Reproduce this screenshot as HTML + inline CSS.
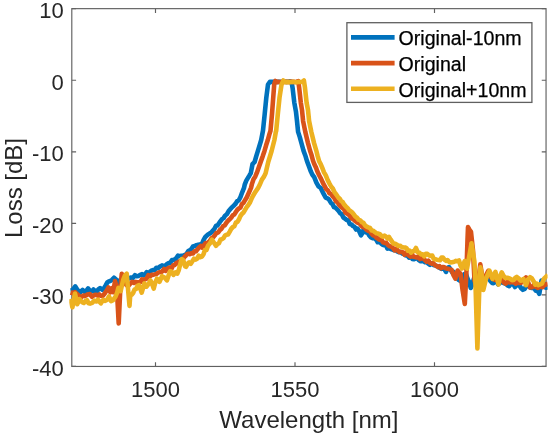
<!DOCTYPE html>
<html><head><meta charset="utf-8"><title>Loss vs Wavelength</title>
<style>
html,body{margin:0;padding:0;background:#fff;}
svg{display:block;}
text{font-family:"Liberation Sans",sans-serif;fill:#262626;}
.tk{font-size:22px;}
.lb{font-size:24px;}
.lg{font-size:19.6px;fill:#000;stroke:#000;stroke-width:0.25px;}
.c{fill:none;stroke-width:4.6;stroke-linejoin:round;stroke-linecap:butt;}
</style></head><body>
<svg width="550" height="438" viewBox="0 0 550 438">
<rect width="550" height="438" fill="#fff"/>
<defs><clipPath id="cp"><rect x="69.3" y="8.65" width="478.24999999999994" height="357.8"/></clipPath></defs>
<g fill="none" stroke="#606060" stroke-width="1.15">
<rect x="71.8" y="8.65" width="474.24999999999994" height="357.8"/>
<path d="M155.5 366.45v-4.3M155.5 8.65v4.3"/>
<path d="M295.0 366.45v-4.3M295.0 8.65v4.3"/>
<path d="M434.5 366.45v-4.3M434.5 8.65v4.3"/>
<path d="M71.8 8.7h4.3M546.05 8.7h-4.3"/>
<path d="M71.8 80.2h4.3M546.05 80.2h-4.3"/>
<path d="M71.8 151.8h4.3M546.05 151.8h-4.3"/>
<path d="M71.8 223.3h4.3M546.05 223.3h-4.3"/>
<path d="M71.8 294.9h4.3M546.05 294.9h-4.3"/>
<path d="M71.8 366.4h4.3M546.05 366.4h-4.3"/>
</g>
<g clip-path="url(#cp)">
<polyline class="c" stroke="#0072BD" points="70.5,290.5 72.5,290.2 75.3,286.4 77.5,289.9 79.7,292.7 82.6,290.0 85.2,292.3 88.1,288.4 90.6,291.6 92.0,291.2 93.5,289.4 95.2,291.6 96.8,291.8 98.4,289.3 100.1,288.0 102.3,289.8 104.2,287.9 105.8,285.2 107.6,282.0 109.0,281.4 110.5,280.8 112.0,279.9 114.0,277.7 116.0,279.5 117.8,282.9 120.0,280.2 122.0,278.8 123.5,280.0 125.0,279.5 126.5,279.3 128.0,279.0 129.5,277.9 131.0,277.6 133.0,277.8 135.0,275.1 136.8,276.2 138.6,275.9 140.4,274.8 142.0,274.1 143.6,275.4 145.1,274.4 146.7,272.2 148.2,272.7 149.8,271.9 151.3,270.7 152.9,270.1 154.7,270.0 156.4,267.7 158.2,268.2 160.0,266.5 162.0,265.4 164.0,266.1 165.5,265.4 167.0,264.1 168.5,263.0 170.0,263.0 172.0,260.1 174.0,259.9 176.0,258.5 178.0,255.7 179.8,256.3 181.5,255.7 183.2,255.6 185.0,254.9 186.6,253.9 188.2,251.1 189.8,250.3 191.4,249.0 193.0,246.5 194.8,246.0 196.5,245.2 198.2,244.8 200.0,244.4 201.8,244.3 203.5,240.2 205.2,237.2 207.0,235.3 208.5,234.2 210.0,233.4 211.5,232.2 213.0,230.4 214.5,228.7 216.0,225.8 217.5,225.5 219.0,223.3 220.5,221.1 222.0,219.2 223.5,218.2 225.0,215.7 226.8,214.3 228.5,211.3 230.2,209.3 232.0,207.2 233.7,205.8 235.4,203.9 237.1,201.3 238.8,200.3 240.5,197.0 242.2,192.3 244.0,187.9 244.8,184.3 246.3,180.6 247.8,178.1 249.3,175.7 250.8,173.1 252.5,164.2 254.6,162.0 256.2,156.4 257.9,150.9 259.5,145.7 261.2,140.0 263.0,130.5 264.7,114.0 266.3,97.8 268.0,84.5 269.9,81.9 271.6,81.9 273.3,81.8 274.9,81.9 276.6,81.9 278.3,81.9 280.0,81.9 281.6,82.0 283.3,81.4 284.9,81.6 286.6,81.9 288.2,81.8 289.9,81.3 291.5,81.9 292.6,88.0 294.3,102.6 296.0,111.9 297.0,121.1 298.1,131.9 299.8,137.1 301.4,143.0 303.5,150.6 305.2,155.2 307.0,161.1 308.9,166.1 310.9,171.6 312.5,174.9 314.2,177.2 316.4,182.7 318.5,186.4 320.7,188.0 323.5,193.7 325.7,197.6 328.0,198.6 329.5,200.3 331.0,203.0 332.5,204.1 334.0,207.1 335.5,207.7 337.0,209.3 338.6,211.0 340.2,213.3 341.8,214.2 343.4,217.5 345.0,218.6 346.6,219.8 348.2,220.4 349.8,224.0 351.4,224.4 353.0,226.0 354.5,226.8 356.0,229.5 357.5,228.6 359.0,230.8 361.0,235.4 362.5,232.9 364.0,228.4 365.8,232.4 367.5,232.4 369.2,235.4 371.0,237.3 372.7,238.1 374.3,238.1 376.0,239.4 377.7,242.2 379.3,240.4 381.0,243.5 382.6,244.8 384.2,245.2 385.8,244.8 387.4,248.6 389.0,248.1 390.7,249.0 392.3,249.4 394.0,250.3 395.7,249.5 397.3,251.4 399.0,252.3 400.7,252.1 402.3,253.5 404.0,254.1 405.7,255.4 407.3,255.3 409.0,257.5 410.7,256.3 412.3,258.9 414.0,259.3 415.7,258.4 417.3,258.2 419.0,260.3 420.5,261.1 422.0,261.1 423.5,261.0 425.0,262.3 426.7,262.0 428.3,263.6 430.0,264.8 431.7,263.4 433.3,264.9 435.0,265.3 436.6,266.1 438.1,266.6 439.7,267.9 441.3,268.9 442.9,268.3 444.4,269.1 446.0,271.9 447.5,267.8 449.0,267.1 450.5,269.4 452.0,272.2 453.5,271.9 455.0,274.9 456.6,277.1 458.2,279.6 459.8,280.7 461.4,280.3 463.0,276.2 464.5,274.0 466.0,274.0 467.6,278.9 469.1,281.8 470.7,288.0 472.4,284.1 474.0,278.4 475.5,276.8 477.0,277.2 478.5,275.9 480.0,275.1 481.7,275.4 483.3,278.3 485.0,277.2 487.0,278.3 489.0,279.0 490.5,281.1 492.0,282.9 493.5,283.1 495.0,279.8 496.5,281.2 498.0,284.3 500.0,283.0 502.0,280.5 503.8,283.1 505.7,283.8 507.5,285.4 509.2,286.2 511.0,283.7 513.0,283.6 515.0,287.0 517.0,284.9 519.0,284.5 521.0,288.0 522.9,289.8 524.7,288.9 526.5,285.4 528.2,285.8 530.0,287.4 532.0,287.9 534.0,288.1 535.8,290.6 537.5,290.7 539.3,293.8 541.5,280.5 543.0,283.2 544.4,283.6 545.9,287.8 548.0,287.4"/>
<polyline class="c" stroke="#D95319" points="70.5,292.5 72.5,293.1 75.0,292.0 77.0,294.1 79.0,295.8 81.2,297.3 83.3,295.5 84.8,296.1 86.2,295.2 87.7,294.4 89.8,294.0 92.0,296.8 93.5,295.5 95.0,294.7 96.5,294.9 98.0,295.7 99.4,294.5 100.9,295.7 103.0,295.6 105.0,293.0 107.0,290.0 108.5,287.5 110.3,292.3 112.0,288.2 113.3,292.2 115.0,281.0 116.8,287.9 118.7,323.5 120.3,289.0 121.8,273.7 123.5,280.7 126.0,284.6 128.0,286.4 130.0,284.0 132.0,281.9 134.0,282.9 135.7,281.9 137.3,282.4 138.8,282.3 140.4,282.1 141.9,279.4 143.5,279.9 145.0,279.3 146.7,278.6 148.3,275.2 150.0,276.4 151.5,274.9 153.0,274.9 154.8,274.4 156.5,273.8 158.2,272.6 160.0,272.1 162.0,271.7 164.0,269.0 165.5,270.9 167.0,268.9 168.5,267.9 170.0,267.4 171.6,268.6 173.2,265.3 174.8,264.9 176.4,262.8 178.0,263.3 179.5,261.2 181.0,261.0 182.5,259.9 184.0,257.5 185.5,255.9 187.0,254.2 188.5,253.8 190.0,254.2 191.5,253.1 193.0,253.5 194.5,251.2 196.0,251.3 197.6,249.2 199.2,247.4 200.8,245.9 202.4,247.6 204.0,245.2 205.5,243.3 207.0,242.9 208.5,243.0 210.0,240.5 211.5,238.3 213.0,237.4 214.8,235.3 216.5,232.9 218.2,232.5 220.0,229.9 221.6,228.6 223.2,226.0 224.8,225.3 226.4,222.7 228.0,220.8 229.6,219.3 231.2,217.7 232.8,215.2 234.4,214.4 236.0,211.8 237.5,209.6 239.0,208.4 240.5,207.5 242.0,203.8 243.5,202.8 245.0,200.2 246.7,197.5 248.3,194.0 251.0,187.9 251.9,184.1 253.5,179.2 255.2,176.7 256.8,172.9 258.8,167.2 260.7,161.9 262.6,156.6 264.5,150.9 266.1,145.3 267.8,140.0 269.5,133.9 270.5,130.7 272.0,114.0 273.2,97.8 274.2,84.5 275.3,80.9 277.0,82.1 278.5,81.9 280.0,82.0 281.5,81.9 283.0,82.3 284.5,81.7 286.0,81.9 287.5,81.8 289.0,82.1 290.5,81.6 292.0,81.9 293.5,81.9 295.0,82.0 296.5,81.7 298.3,81.2 299.2,88.0 300.8,102.6 302.0,110.0 303.1,121.1 305.3,131.9 308.0,143.1 310.0,150.5 311.6,155.3 313.1,161.0 314.6,164.8 316.0,167.6 317.5,171.7 319.3,175.5 321.1,178.8 322.9,182.9 324.5,185.8 326.2,189.1 327.9,190.5 329.5,193.4 331.1,193.9 332.8,196.4 334.4,198.0 335.9,201.4 337.4,202.0 339.0,204.7 340.6,206.4 342.2,207.7 343.8,208.7 345.4,212.5 347.0,213.6 348.6,214.6 350.2,216.5 351.8,218.4 353.4,219.3 355.0,220.8 356.6,222.0 358.2,223.0 359.8,223.7 361.4,225.9 363.0,227.1 364.7,227.5 366.3,229.5 368.0,230.7 369.7,231.1 371.3,233.3 373.0,235.4 374.7,235.5 376.3,237.5 378.0,238.7 379.7,239.8 381.3,239.6 383.0,242.3 384.7,242.9 386.3,242.9 388.0,245.1 389.7,246.2 391.3,246.6 393.0,248.0 394.7,250.3 396.3,248.7 398.0,250.8 399.7,252.1 401.3,251.8 403.0,252.5 404.5,254.7 406.0,252.8 407.5,254.1 409.0,255.6 410.5,256.6 412.0,254.2 413.5,256.8 415.0,257.0 416.7,257.5 418.3,256.4 420.0,259.1 421.7,257.7 423.3,258.5 425.0,260.2 426.7,261.6 428.3,260.6 430.0,262.9 431.7,263.6 433.3,263.1 435.0,265.2 436.5,265.8 438.0,267.1 439.5,266.1 441.0,268.2 442.5,267.1 444.0,267.0 445.5,268.3 447.0,268.6 448.5,268.8 450.1,269.5 451.6,269.7 453.5,275.2 455.4,278.7 457.6,270.5 460.5,273.8 462.6,290.2 464.8,303.9 466.5,270.4 467.5,239.8 468.0,227.1 469.5,229.7 471.0,231.9 473.0,250.5 474.5,280.4 476.0,285.0 477.5,279.6 479.0,275.2 480.3,264.3 481.5,271.7 483.2,284.9 485.0,278.5 486.6,274.0 488.3,270.9 491.0,277.4 492.5,276.2 494.0,279.5 495.7,280.1 497.3,279.5 499.0,280.9 500.7,281.0 502.4,280.0 504.1,282.7 505.8,283.6 507.5,281.9 509.2,282.4 510.9,282.2 512.6,282.2 514.3,282.6 516.0,283.7 517.7,282.0 519.3,283.0 521.0,283.0 522.7,280.7 524.3,279.5 526.0,277.4 528.0,281.9 530.0,287.5 532.0,287.3 534.0,284.7 536.0,287.0 538.0,287.9 539.6,286.7 541.2,286.7 542.7,287.2 544.3,285.1 545.9,284.5 548.0,283.7"/>
<polyline class="c" stroke="#EDB120" points="70.5,298.8 72.4,307.3 75.0,293.5 77.3,304.2 79.5,299.1 82.2,302.2 83.8,303.0 85.5,301.0 87.0,300.1 88.5,303.3 90.0,303.6 92.2,302.8 94.3,300.6 96.2,301.5 98.0,299.7 99.5,301.7 100.9,303.4 103.1,299.9 105.2,300.9 107.1,299.7 109.0,296.5 111.0,301.1 113.0,300.1 115.5,296.7 117.0,293.0 118.4,287.9 120.6,291.2 123.3,279.6 125.0,275.3 126.7,273.7 129.5,305.9 130.2,295.5 131.7,294.7 133.1,293.0 134.6,289.4 136.1,289.0 137.5,285.9 139.0,285.2 141.7,292.6 144.4,283.4 146.4,286.7 148.3,284.4 150.5,280.5 152.1,284.1 153.7,288.6 155.3,282.5 157.0,278.7 159.5,281.8 162.0,276.2 164.5,277.5 166.9,280.4 168.6,275.4 170.2,271.1 171.8,271.9 173.5,274.9 175.5,272.4 177.3,273.6 178.8,270.0 180.2,264.3 181.7,259.1 183.3,260.4 185.0,266.2 186.0,266.8 187.6,263.8 189.2,262.3 190.8,263.7 192.4,261.3 194.0,258.7 195.6,259.6 197.2,258.5 198.8,255.7 200.4,257.2 202.0,256.6 203.5,254.3 205.0,249.7 206.5,249.9 208.0,245.7 210.0,243.3 212.0,239.7 214.0,242.7 216.0,245.8 217.5,244.0 219.0,243.2 220.5,239.5 222.0,239.2 223.5,238.2 225.0,235.5 226.5,234.7 228.0,234.5 229.6,231.8 231.2,228.9 232.8,227.1 234.4,226.2 236.0,222.4 237.5,221.8 239.0,219.3 240.5,215.9 242.0,213.8 243.6,212.4 245.2,209.6 246.7,207.1 248.3,205.1 249.8,202.8 251.4,199.1 252.9,196.0 255.4,191.8 258.0,188.2 260.1,184.0 261.9,179.6 263.8,176.9 265.6,173.2 268.3,161.8 270.0,156.3 271.6,151.0 274.4,140.0 275.8,132.0 276.2,130.7 277.8,114.2 279.5,97.7 281.5,84.7 283.4,80.5 285.5,82.1 287.0,82.1 288.5,81.9 290.0,82.1 291.5,82.0 293.0,81.8 294.5,81.9 296.0,82.2 297.5,82.1 299.0,81.8 300.5,82.0 302.0,82.0 303.9,80.5 305.0,87.9 306.6,102.7 308.0,110.0 309.1,121.0 311.3,131.8 314.0,142.9 316.2,150.3 317.6,155.9 319.1,161.2 320.7,164.1 322.4,168.2 324.0,172.3 325.8,175.4 327.7,180.1 329.5,183.6 331.1,186.5 332.8,188.5 334.5,192.3 336.1,194.2 338.0,197.1 339.9,199.0 341.0,200.9 342.6,201.9 344.2,204.6 345.8,206.5 347.4,207.9 349.0,210.0 350.6,211.2 352.2,212.3 353.8,214.4 355.4,216.6 357.0,217.7 358.6,219.7 360.2,220.3 361.8,222.1 363.4,222.9 365.0,225.3 366.7,226.6 368.3,227.4 370.0,228.0 371.7,230.5 373.3,230.8 375.0,232.2 376.6,233.3 378.2,233.5 379.8,234.2 381.4,235.9 383.0,236.7 384.5,235.6 386.0,236.7 387.5,238.5 389.0,237.0 390.5,239.4 392.0,241.6 393.5,243.7 395.0,243.7 396.7,244.5 398.3,245.9 400.0,245.7 401.7,247.0 403.3,247.5 405.0,247.5 406.5,248.1 408.0,250.8 409.5,250.5 411.0,252.6 412.7,251.2 414.3,251.0 416.0,248.0 417.7,252.2 419.3,252.7 421.0,254.4 422.6,254.2 424.2,256.4 425.8,253.9 427.4,253.9 429.0,255.3 430.6,255.9 432.2,255.5 433.8,259.0 435.4,259.3 437.0,259.7 438.5,260.0 440.0,260.3 441.5,257.6 443.0,257.6 444.5,259.6 446.0,260.8 447.5,260.1 449.0,261.8 450.5,262.4 452.3,262.2 454.2,261.8 456.0,260.9 457.5,261.3 459.0,260.5 460.5,265.5 462.0,268.5 464.7,261.0 467.0,268.7 469.0,257.7 471.5,243.3 474.4,261.4 475.2,274.1 477.4,348.5 479.2,291.7 479.9,274.9 480.4,267.4 481.6,273.4 483.3,289.9 486.0,278.8 487.7,274.4 489.4,270.6 491.0,274.4 492.6,279.0 495.4,271.9 496.9,277.5 498.5,284.6 500.1,276.6 501.7,272.3 503.5,275.9 505.3,277.9 508.0,277.9 510.0,278.7 512.0,280.2 513.6,280.0 515.2,278.0 516.8,276.9 518.8,278.6 520.7,280.7 523.5,279.0 526.0,285.2 528.0,279.5 530.0,277.2 531.9,278.5 533.8,281.6 535.3,284.7 536.7,283.6 538.2,285.2 540.1,284.3 542.0,283.6 544.0,278.6 545.9,276.8 548.0,275.0"/>
</g>
<text class="tk" x="155.5" y="396.5" text-anchor="middle">1500</text>
<text class="tk" x="295.0" y="396.5" text-anchor="middle">1550</text>
<text class="tk" x="434.5" y="396.5" text-anchor="middle">1600</text>
<text class="tk" x="63.8" y="18.1" text-anchor="end">10</text>
<text class="tk" x="63.8" y="89.7" text-anchor="end">0</text>
<text class="tk" x="63.8" y="161.3" text-anchor="end">-10</text>
<text class="tk" x="63.8" y="232.8" text-anchor="end">-20</text>
<text class="tk" x="63.8" y="304.4" text-anchor="end">-30</text>
<text class="tk" x="63.8" y="375.9" text-anchor="end">-40</text>
<text class="lb" x="308.9" y="427.8" text-anchor="middle">Wavelength [nm]</text>
<text class="lb" transform="translate(22.3 188.0) rotate(-90)" text-anchor="middle">Loss [dB]</text>
<rect x="346.9" y="22.7" width="185" height="79.7" fill="#fff" stroke="#606060" stroke-width="1.3"/>
<path d="M351 37.4H394.6" stroke="#0072BD" stroke-width="4.6" fill="none"/>
<text class="lg" x="398.6" y="45.3">Original-10nm</text>
<path d="M351 63.1H394.6" stroke="#D95319" stroke-width="4.6" fill="none"/>
<text class="lg" x="398.6" y="71.0">Original</text>
<path d="M351 88.8H394.6" stroke="#EDB120" stroke-width="4.6" fill="none"/>
<text class="lg" x="398.6" y="96.7">Original+10nm</text>
</svg></body></html>
